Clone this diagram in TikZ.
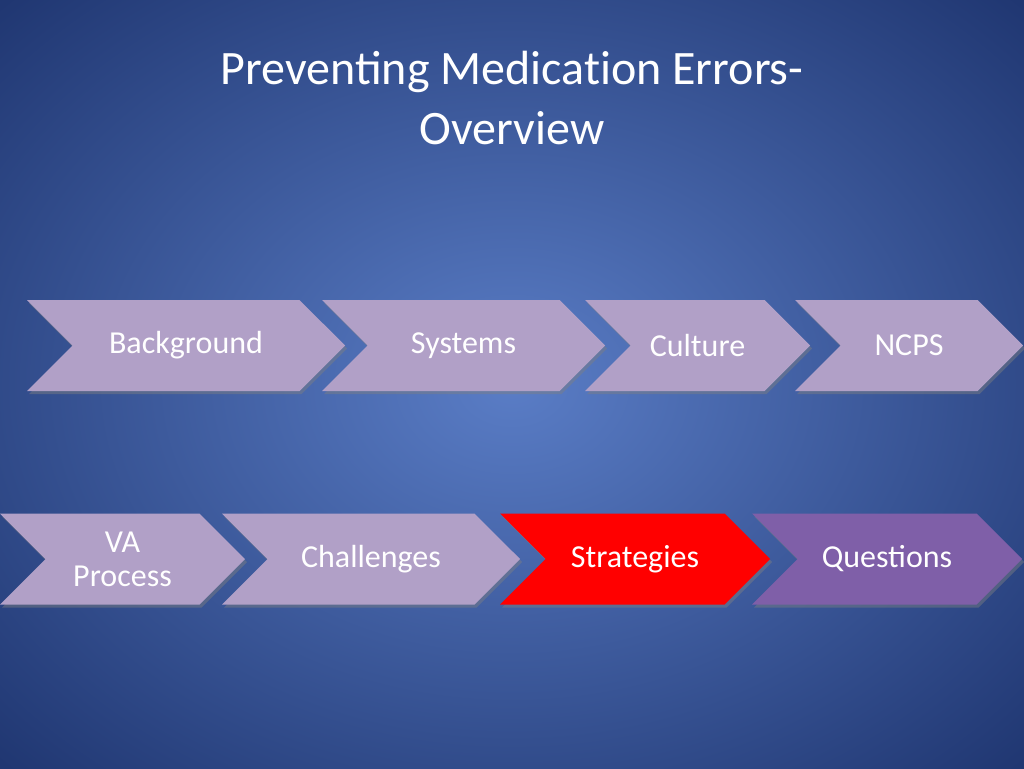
\documentclass[tikz,border=0pt]{standalone}
\usepackage{fontspec}
\setmainfont{Carlito}
\usetikzlibrary{shapes.symbols,shadows}
\definecolor{bgin}{HTML}{5A7DC6}
\definecolor{bgout}{HTML}{1C326C}
\definecolor{lav}{HTML}{B1A0C7}
\definecolor{qpurple}{HTML}{7F5FA8}

\begin{document}
\begin{tikzpicture}[x=1pt, y=-1pt, semithick,
  chev/.style={signal, signal from=west, signal to=east, signal pointer angle=90,
    minimum height=91pt, inner sep=0pt, fill=lav, text=white, align=center,
    font=\fontsize{32}{34}\selectfont,
    drop shadow={shadow xshift=2pt, shadow yshift=-3pt, opacity=0.45}},
  ttl/.style={text=white, font=\fontsize{48}{60}\selectfont, align=center}]

\useasboundingbox (0,0) rectangle (1024,768);
\clip (0,0) rectangle (1024,768);
\shade[inner color=bgin, outer color=bgout] (-250,-200) rectangle (1274,968);

\node[ttl] (title) at (512,98) {Preventing Medicat\kern0pt ion Errors-\\Overview};

% first row
\node[chev, minimum width=318pt] (bg) at (186,345.5) {Background};
\node[chev, minimum width=283pt] (sys) at (463.5,345.5) {Systems};
\node[chev, minimum width=225pt] (cul) at (697.5,345.5) {Culture};
\node[chev, minimum width=228pt] (ncps) at (909,345.5) {NCPS};

% second row
\node[chev, minimum width=245pt] (va) at (122.5,559) {VA\\Process};
\node[chev, minimum width=298pt] (chal) at (371,559) {Challenges};
\node[chev, minimum width=270pt, fill=red] (strat) at (635,559) {Strategies};
\node[chev, minimum width=270pt, fill=qpurple] (quest) at (887,559) {Questions};

\end{tikzpicture}
\end{document}
